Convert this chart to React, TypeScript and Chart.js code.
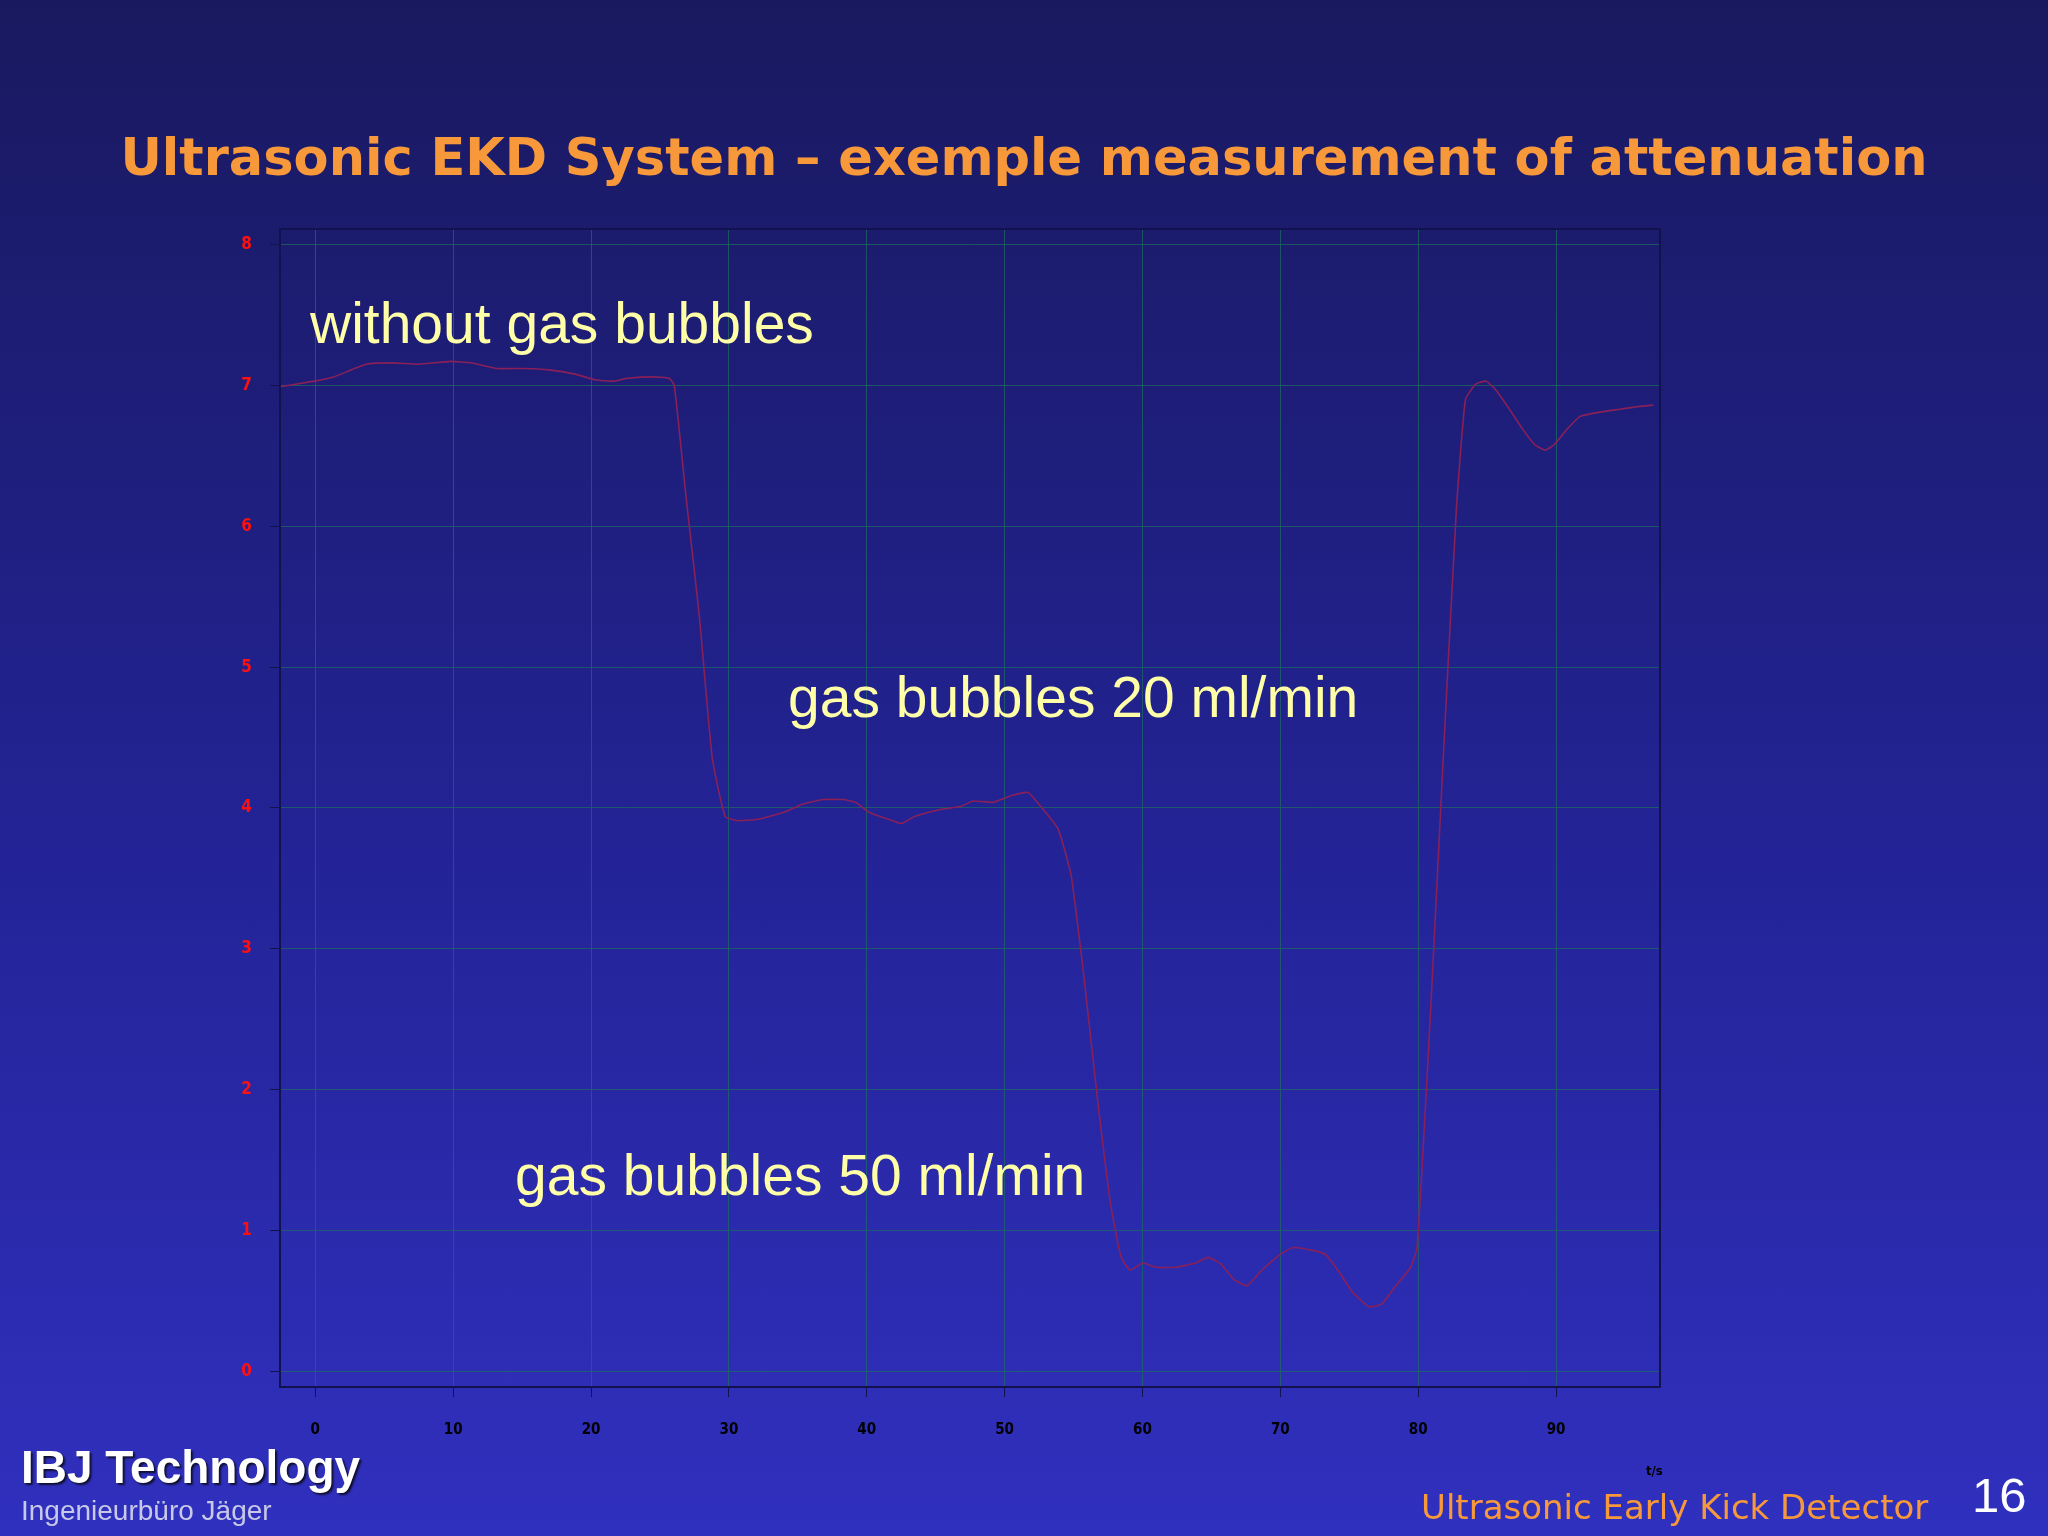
import React, { useEffect, useRef } from "react";
import { Chart, registerables } from "chart.js";

Chart.register(...registerables);

// x in seconds-like units (tick spacing 10), y in attenuation units
const timeValues = [
  -2.56, -0.09, 1.33, 3.69, 5.59, 7.48, 9.85, 11.27, 13.16, 15.06, 16.95, 18.84, 20.27, 21.69, 22.63,
  24.53, 25.66, 26.04, 26.89, 27.84, 28.79, 29.73, 30.68, 32.1, 34.0, 35.42, 36.84, 38.26, 39.2, 40.15,
  41.57, 42.52, 43.47, 45.36, 46.78, 47.73, 49.15, 50.57, 51.7, 52.46, 53.88, 54.83, 55.78, 56.72, 57.67,
  58.43, 59.09, 60.04, 60.98, 62.41, 63.83, 64.77, 65.72, 66.67, 67.61, 68.56, 69.98, 70.93, 72.35, 73.3,
  74.24, 75.19, 76.42, 77.37, 78.31, 79.45, 79.92, 80.87, 81.82, 82.77, 83.43, 84.19, 84.94, 85.61, 86.55,
  87.5, 88.45, 89.2, 89.87, 90.81, 91.76, 93.18, 94.6, 96.02, 97.06,
];
const attenuationValues = [
  6.99, 7.03, 7.06, 7.15, 7.16, 7.15, 7.17, 7.16, 7.12, 7.12, 7.11, 7.08, 7.04, 7.03, 7.05,
  7.06, 7.05, 7.0, 6.21, 5.38, 4.36, 3.94, 3.91, 3.92, 3.97, 4.03, 4.06, 4.06, 4.04, 3.97,
  3.92, 3.89, 3.94, 3.99, 4.01, 4.05, 4.04, 4.09, 4.11, 4.03, 3.85, 3.52, 2.78, 1.95, 1.2,
  0.82, 0.72, 0.77, 0.74, 0.74, 0.77, 0.81, 0.76, 0.65, 0.61, 0.71, 0.83, 0.88, 0.86, 0.83,
  0.71, 0.57, 0.46, 0.48, 0.6, 0.74, 0.88, 2.5, 4.36, 6.12, 6.9, 7.01, 7.03, 6.97, 6.84,
  6.7, 6.58, 6.54, 6.58, 6.69, 6.78, 6.81, 6.83, 6.85, 6.86,
];
const xTicks = [0, 10, 20, 30, 40, 50, 60, 70, 80, 90];
const xTickLabels = ["0", "10", "20", "30", "40", "50", "60", "70", "80", "90"];
const yTicks = [0, 1, 2, 3, 4, 5, 6, 7, 8];
const yTickLabels = ["0", "1", "2", "3", "4", "5", "6", "7", "8"];

const boxPlugin = {
  id: "boxPlugin",
  afterDraw(chart: any) {
    const { ctx, chartArea } = chart;
    ctx.save();
    ctx.strokeStyle = "#12124e";
    ctx.lineWidth = 2;
    ctx.strokeRect(chartArea.left, chartArea.top, chartArea.right - chartArea.left, chartArea.bottom - chartArea.top);
    ctx.restore();
  },
};

export default function App() {
  const ref = useRef<HTMLCanvasElement | null>(null);
  useEffect(() => {
    if (!ref.current) return;
    const chart = new Chart(ref.current, {
      type: "line",
      data: {
        datasets: [
          {
            data: timeValues.map((t, i) => ({ x: t, y: attenuationValues[i] })),
            borderColor: "#8a2058",
            borderWidth: 1.6,
            pointRadius: 0,
            tension: 0.15,
            fill: false,
          },
        ],
      },
      options: {
        animation: false,
        responsive: false,
        devicePixelRatio: 1,
        layout: { padding: { left: 220, top: 229, right: 388, bottom: 89 } },
        plugins: { legend: { display: false }, tooltip: { enabled: false } },
        scales: {
          x: {
            type: "linear",
            min: -2.56,
            max: 97.54,
            afterBuildTicks: (s: any) => {
              s.ticks = xTicks.map((v) => ({ value: v }));
            },
            afterFit: (s: any) => {
              s.height = 60;
            },
            ticks: {
              color: "#000000",
              font: { family: "DejaVu Sans Condensed", size: 15, weight: "bold" },
              padding: 24,
              maxRotation: 0,
              autoSkip: false,
              callback: (_v: any, i: number) => xTickLabels[i],
            },
            grid: { color: "rgba(30,105,95,0.75)", lineWidth: 1, tickLength: 10, tickColor: "#12124e" },
            border: { color: "#12124e", width: 2 },
          },
          y: {
            type: "linear",
            min: -0.11,
            max: 8.11,
            afterBuildTicks: (s: any) => {
              s.ticks = yTicks.map((v) => ({ value: v }));
            },
            afterFit: (s: any) => {
              s.width = 60;
            },
            ticks: {
              color: "#ff1010",
              font: { family: "DejaVu Sans Condensed", size: 17, weight: "bold" },
              padding: 18,
              autoSkip: false,
              callback: (_v: any, i: number) => yTickLabels[i],
            },
            grid: { color: "rgba(30,105,95,0.75)", lineWidth: 1, tickLength: 10, tickColor: "#12124e" },
            border: { color: "#12124e", width: 2 },
          },
        },
      },
      plugins: [boxPlugin],
    });
    return () => chart.destroy();
  }, []);

  const abs = (left: number, top: number): React.CSSProperties => ({
    position: "absolute",
    left,
    top,
    transform: "translateY(-50%)",
    whiteSpace: "nowrap",
    lineHeight: 1,
  });
  const ann: React.CSSProperties = {
    fontFamily: "'Liberation Sans', Arial, sans-serif",
    fontSize: 57,
    color: "#ffffa8",
  };

  return (
    <div
      style={{
        position: "fixed",
        left: 0,
        top: 0,
        width: 2048,
        height: 1536,
        overflow: "hidden",
        background: "linear-gradient(to bottom, #19195f 0%, #232396 55%, #3030bf 100%)",
      }}
    >
      <div
        style={{
          position: "absolute",
          left: 0,
          width: 2048,
          top: 157,
          transform: "translateY(-50%)",
          textAlign: "center",
          fontFamily: "'DejaVu Sans', Verdana, sans-serif",
          fontWeight: "bold",
          fontSize: 51,
          color: "#f7993a",
          lineHeight: 1,
          whiteSpace: "nowrap",
        }}
      >
        Ultrasonic EKD System – exemple measurement of attenuation
      </div>
      <canvas ref={ref} width={2048} height={1536} style={{ position: "absolute", left: 0, top: 0, width: 2048, height: 1536 }} />
      <div style={{ ...abs(310, 323), ...ann }}>without gas bubbles</div>
      <div style={{ ...abs(788, 697), ...ann }}>gas bubbles 20 ml/min</div>
      <div style={{ ...abs(515, 1175), ...ann }}>gas bubbles 50 ml/min</div>
      <div style={{ ...abs(1646, 1470), fontFamily: "'DejaVu Sans Condensed'", fontWeight: "bold", fontSize: 13, color: "#000" }}>t/s</div>
      <div
        style={{
          ...abs(21, 1467),
          fontFamily: "'Liberation Sans', Arial, sans-serif",
          fontWeight: "bold",
          fontSize: 46,
          color: "#ffffff",
          textShadow: "2px 2px 2px #101030",
        }}
      >
        IBJ Technology
      </div>
      <div style={{ ...abs(21, 1511), fontFamily: "'Liberation Sans', Arial, sans-serif", fontSize: 28, color: "#c8c8e8" }}>
        Ingenieurbüro Jäger
      </div>
      <div style={{ ...abs(1421, 1507), fontFamily: "'DejaVu Sans', Verdana, sans-serif", fontSize: 34, color: "#f7993a" }}>
        Ultrasonic Early Kick Detector
      </div>
      <div style={{ ...abs(1972, 1495), fontFamily: "'Liberation Sans', Arial, sans-serif", fontSize: 49, color: "#ffffff" }}>16</div>
    </div>
  );
}
